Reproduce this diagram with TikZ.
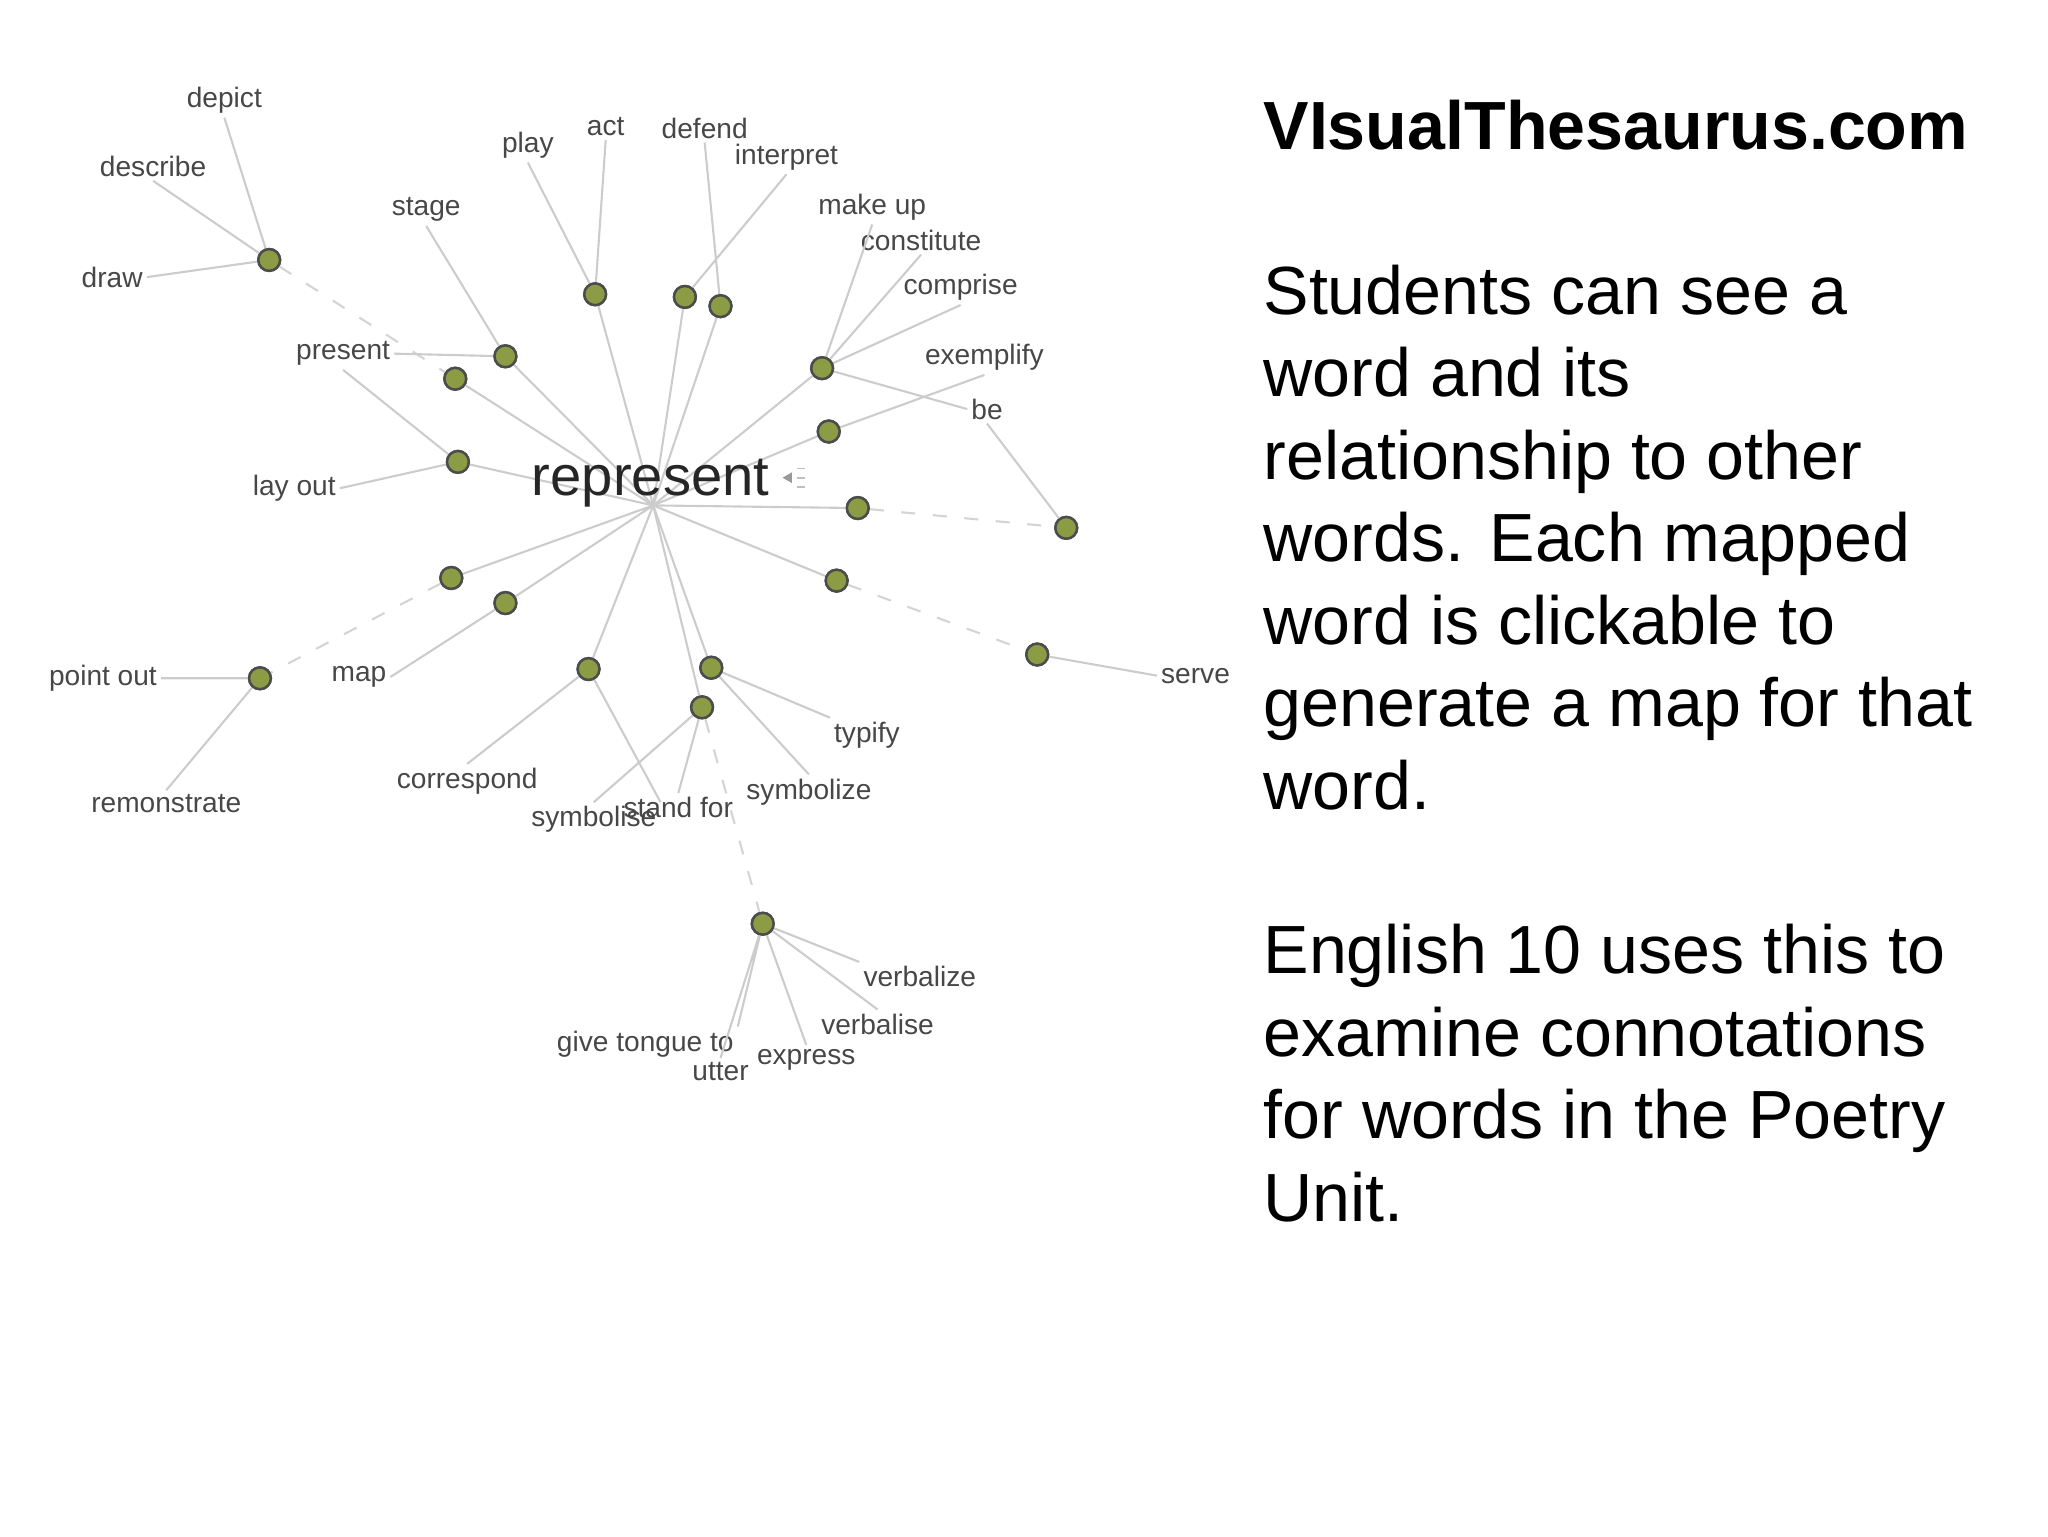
\documentclass[tikz,border=0pt]{standalone}
\usepackage{fontspec}
\usetikzlibrary{calc}
\setmainfont{Liberation Sans}
\definecolor{dotc}{HTML}{8C9C45}
\begin{document}
\begin{tikzpicture}[x=0.013196cm,y=-0.013196cm,
  lbl/.style={font=\fontsize{8}{9}\selectfont,text=black!72,inner sep=1pt},
  dot/.style={circle,fill=dotc,draw=black!70,line width=0.7pt,minimum size=6.2pt,inner sep=0pt},
  ed/.style={draw=black!20,line width=0.6pt},
  dsh/.style={draw=black!17,line width=0.6pt,dash pattern=on 4pt off 5pt},
  body/.style={font=\fontsize{19.4}{23.5}\selectfont,anchor=north west,align=left,inner sep=0pt}]
\useasboundingbox (0,0) rectangle (1552,1164);
\coordinate (hub) at (495,383);
% dots
\node[dot] (dDraw) at (204,197) {};
\node[dot] (dStage) at (383,270) {};
\node[dot] (dPres) at (345,287) {};
\node[dot] (dLay) at (347,350) {};
\node[dot] (dPlay) at (451,223) {};
\node[dot] (dInt) at (519,225) {};
\node[dot] (dDef) at (546,232) {};
\node[dot] (dMake) at (623,279) {};
\node[dot] (dEx) at (628,327) {};
\node[dot] (dBeA) at (650,385) {};
\node[dot] (dBeB) at (808,400) {};
\node[dot] (dSvA) at (634,440) {};
\node[dot] (dSvB) at (786,496) {};
\node[dot] (dMapA) at (342,438) {};
\node[dot] (dMapB) at (383,457) {};
\node[dot] (dPoint) at (197,514) {};
\node[dot] (dCor) at (446,507) {};
\node[dot] (dTyp) at (539,506) {};
\node[dot] (dSt) at (532,536) {};
\node[dot] (dExp) at (578,700) {};
% labels
\node[lbl] (depict) at (170,76) {depict};
\node[lbl] (describe) at (116,126) {describe};
\node[lbl] (draw) at (85,210) {draw};
\node[lbl] (stage) at (323,159) {stage};
\node[lbl] (present) at (260,268) {present};
\node[lbl] (layout) at (223,370) {lay out};
\node[lbl] (play) at (400,110) {play};
\node[lbl] (act) at (459,96) {act};
\node[lbl] (defend) at (534,97) {defend};
\node[lbl] (interpret) at (596,119) {interpret};
\node[lbl] (makeup) at (661,157) {make up};
\node[lbl] (constitute) at (698,182) {constitute};
\node[lbl] (comprise) at (728,218) {comprise};
\node[lbl] (exemplify) at (746,271) {exemplify};
\node[lbl] (be) at (748,310) {be};
\node[lbl] (serve) at (906,512) {serve};
\node[lbl] (pointout) at (78,514) {point out};
\node[lbl] (remon) at (126,609) {remonstrate};
\node[lbl] (map) at (272,513) {map};
\node[lbl] (corr) at (354,592) {correspond};
\node[lbl] (symbolise) at (450,621) {symbolise};
\node[lbl] (standfor) at (514,612) {stand for};
\node[lbl] (symbolize) at (613,600) {symbolize};
\node[lbl] (typify) at (657,557) {typify};
\node[lbl] (verbalize) at (697,740) {verbalize};
\node[lbl] (verbalise) at (665,776) {verbalise};
\node[lbl] (express) at (611,803) {express};
\node[lbl] (give) at (489,791) {give tongue to};
\node[lbl] (utter) at (546,812) {utter};
% edges
\path[ed] (dDraw) -- (depict.south) (dDraw) -- (describe.south) (dDraw) -- (draw.east);
\path[dsh] (dDraw) -- (dPres);
\path[ed] (dStage) -- (stage.south) (dStage) -- (present.east) (dStage) -- (hub);
\path[ed] (dPres) -- (hub) (dLay) -- (hub) (dLay) -- (layout.east) (dLay) -- (present.south);
\path[ed] (dPlay) -- (play.south) (dPlay) -- (act.south) (dPlay) -- (hub);
\path[ed] (dInt) -- (interpret.south) (dInt) -- (hub) (dDef) -- (defend.south) (dDef) -- (hub);
\path[ed] (dMake) -- (makeup.south) (dMake) -- (constitute.south) (dMake) -- (comprise.south) (dMake) -- (be.west) (dMake) -- (hub);
\path[ed] (dEx) -- (exemplify.south) (dEx) -- (hub);
\path[ed] (dBeA) -- (hub) (dBeB) -- (be.south);
\path[dsh] (dBeA) -- (dBeB);
\path[ed] (dSvA) -- (hub) (dSvB) -- (serve.west);
\path[dsh] (dSvA) -- (dSvB);
\path[ed] (dMapA) -- (hub) (dMapB) -- (hub) (dMapB) -- (map.east);
\path[dsh] (dMapA) -- (dPoint);
\path[ed] (dPoint) -- (pointout.east) (dPoint) -- (remon.north);
\path[ed] (dCor) -- (hub) (dCor) -- (corr.north) (dCor) -- (symbolise.north east);
\path[ed] (dTyp) -- (hub) (dTyp) -- (typify.north west) (dTyp) -- (symbolize.north);
\path[ed] (dSt) -- (hub) (dSt) -- (standfor.north) (dSt) -- (symbolise.north);
\path[dsh] (dSt) -- (dExp);
\path[ed] (dExp) -- (verbalize.north west) (dExp) -- (verbalise.north) (dExp) -- (express.north) (dExp) -- (utter.north) (dExp) -- (give.north east);
\foreach \n in {dDraw,dStage,dPres,dLay,dPlay,dInt,dDef,dMake,dEx,dBeA,dBeB,dSvA,dSvB,dMapA,dMapB,dPoint,dCor,dTyp,dSt,dExp}
  \node[dot] at (\n) {};
\node[font=\fontsize{16}{18}\selectfont,text=black!85,inner sep=0pt] (rep) at (493,366) {represent};
% speaker icon
\coordinate (spk) at (600,362);
\fill[black!40] ($(spk)+(0,-4)$) -- ++(0,8) -- ++(-7,-4) -- cycle;
\draw[black!25,line width=0.5pt] ($(spk)+(4,-7)$) -- ++(6,0) ($(spk)+(4,0)$) -- ++(6,0) ($(spk)+(4,7)$) -- ++(6,0);
% right text
\node[body,font=\fontsize{19.4}{23.5}\selectfont\bfseries] (title) at (957,75) {VIsualThesaurus.com};
\node[body] (p1) at (957,200) {Students can see a\\word and its\\relationship to other\\words. Each mapped\\word is clickable to\\generate a map for that\\word.};
\node[body] (p2) at (957,700) {English 10 uses this to\\examine connotations\\for words in the Poetry\\Unit.};
\end{tikzpicture}
\end{document}
